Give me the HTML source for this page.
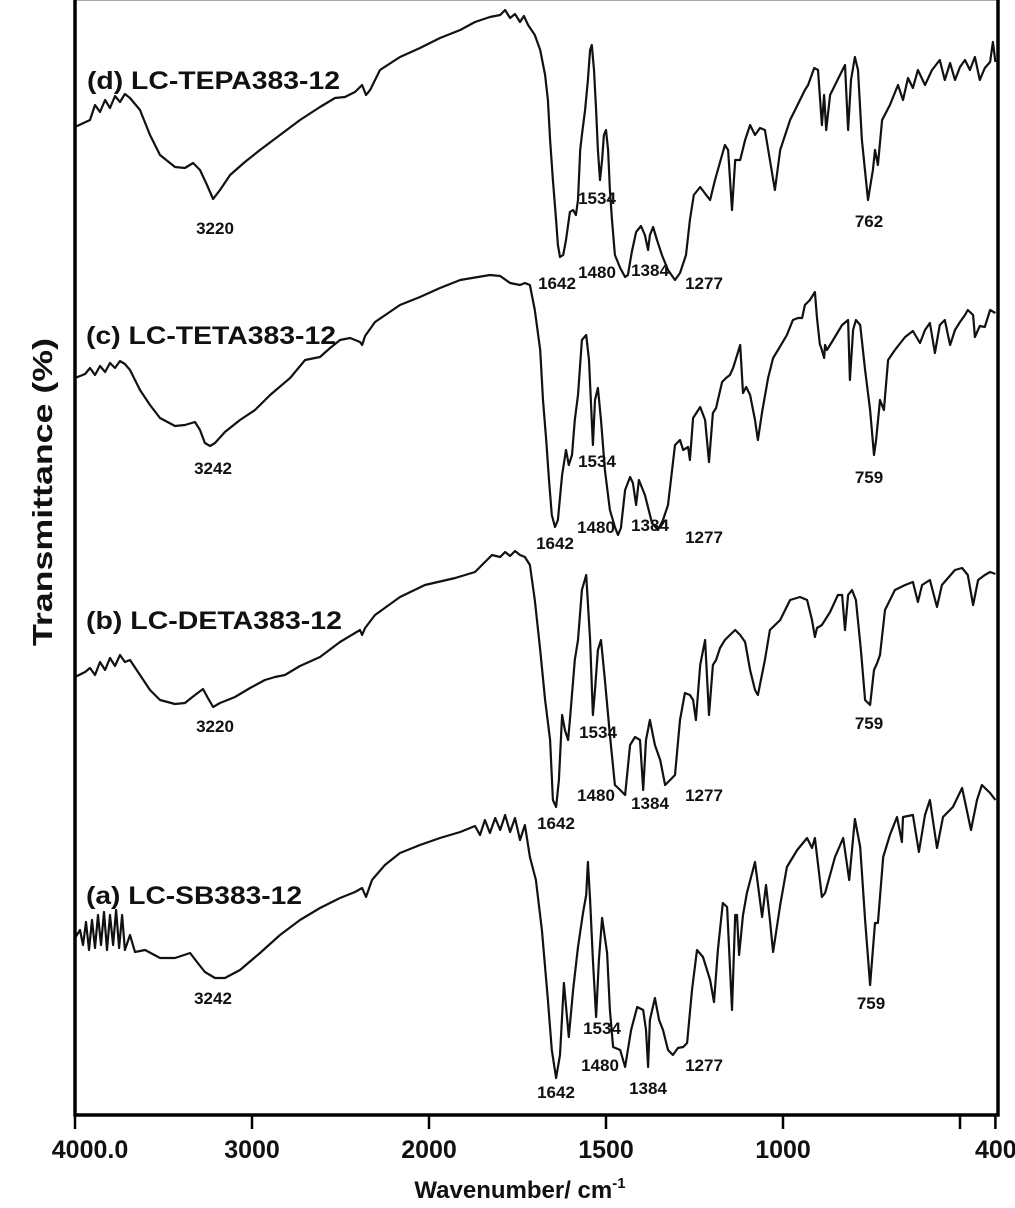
<!DOCTYPE html>
<html><head><meta charset="utf-8"><style>
html,body{margin:0;padding:0;background:#fff;}
svg{display:block;}
text{font-family:"Liberation Sans",Arial,sans-serif;font-weight:bold;fill:#111;}
</style></head><body>
<svg id="chart" width="1015" height="1208" viewBox="0 0 1015 1208" xmlns="http://www.w3.org/2000/svg">
<rect x="0" y="0" width="1015" height="1208" fill="#fff"/>
<line x1="75" y1="0.5" x2="998" y2="0.5" stroke="#aaa" stroke-width="1"/>
<g id="series"></g>
<g id="axes"></g>
<g>
<text x="87" y="89" font-size="25" textLength="253" lengthAdjust="spacingAndGlyphs">(d) LC-TEPA383-12</text>
<text x="86" y="344" font-size="25" textLength="250" lengthAdjust="spacingAndGlyphs">(c) LC-TETA383-12</text>
<text x="86" y="629" font-size="25" textLength="256" lengthAdjust="spacingAndGlyphs">(b) LC-DETA383-12</text>
<text x="86" y="904" font-size="25" textLength="216" lengthAdjust="spacingAndGlyphs">(a) LC-SB383-12</text>
</g>
<g font-size="17" text-anchor="middle">
<text x="215" y="234">3220</text><text x="597" y="204">1534</text><text x="557" y="289">1642</text><text x="597" y="278">1480</text><text x="650" y="276">1384</text><text x="704" y="289">1277</text><text x="869" y="227">762</text>
<text x="213" y="474">3242</text><text x="597" y="467">1534</text><text x="555" y="549">1642</text><text x="596" y="533">1480</text><text x="650" y="531">1384</text><text x="704" y="543">1277</text><text x="869" y="483">759</text>
<text x="215" y="732">3220</text><text x="598" y="738">1534</text><text x="556" y="829">1642</text><text x="596" y="801">1480</text><text x="650" y="809">1384</text><text x="704" y="801">1277</text><text x="869" y="729">759</text>
<text x="213" y="1004">3242</text><text x="602" y="1034">1534</text><text x="556" y="1098">1642</text><text x="600" y="1071">1480</text><text x="648" y="1094">1384</text><text x="704" y="1071">1277</text><text x="871" y="1009">759</text>
</g>
<text transform="translate(52,492) rotate(-90)" text-anchor="middle" font-size="28" textLength="308" lengthAdjust="spacingAndGlyphs">Transmittance (%)</text>
<text x="520" y="1198" text-anchor="middle" font-size="24">Wavenumber/ cm<tspan font-size="15" dy="-10">-1</tspan></text>
</svg>
<script>
const wnD=[4000,3915,3887,3859,3830,3802,3774,3746,3718,3689,3633,3576,3520,3435,3379,3333,3294,3254,3220,3181,3124,3040,2955,2842,2729,2616,2531,2475,2418,2378,2356,2333,2277,2164,2051,1969,1912,1870,1828,1799,1785,1771,1757,1743,1732,1720,1701,1686,1672,1664,1658,1650,1641,1636,1630,1621,1613,1602,1593,1585,1579,1573,1568,1559,1551,1545,1540,1534,1528,1523,1517,1511,1506,1500,1494,1489,1483,1475,1460,1446,1438,1427,1415,1401,1390,1381,1376,1367,1356,1342,1325,1305,1291,1274,1263,1252,1234,1217,1206,1192,1164,1155,1144,1135,1121,1107,1093,1079,1065,1051,1037,1023,1008,980,952,938,929,912,901,890,884,878,867,839,825,816,808,797,788,777,760,746,740,732,720,698,675,661,647,633,619,599,579,557,543,528,514,500,486,472,458,444,430,415,407,400];
const tD=[98.8,99.5,101.0,100.3,101.5,100.7,101.9,101.3,102.1,101.7,100.5,98.0,96.0,94.8,94.7,95.2,94.5,93.0,91.6,92.5,94.0,95.3,96.5,98.0,99.5,100.8,101.7,101.8,102.3,103.0,102.0,102.5,104.5,105.8,106.7,107.7,108.5,109.3,109.8,110.0,110.5,109.7,110.1,109.3,109.9,109.0,108.0,106.5,104.0,101.5,97.5,93.5,89.5,87.0,85.8,86.0,87.5,90.3,90.5,90.0,91.5,96.5,98.0,100.5,103.5,106.5,107.0,104.5,100.5,96.5,93.5,95.5,98.0,98.5,96.5,92.5,89.5,86.0,84.7,83.8,84.0,86.3,88.3,88.9,88.0,86.5,88.0,88.8,87.5,86.0,84.5,83.5,84.2,86.0,89.5,92.0,92.8,92.0,91.5,93.5,97.0,96.5,90.5,95.5,95.5,97.5,99.0,98.0,98.7,98.5,95.5,92.5,96.5,99.5,101.5,102.5,103.0,104.7,104.5,99.0,102.0,98.5,102.0,104.0,105.0,98.5,103.5,105.8,104.5,97.5,91.5,94.5,96.5,95.0,99.5,101.0,103.0,101.5,103.7,102.7,104.5,103.0,104.5,105.5,103.5,105.2,103.5,104.8,105.5,104.5,105.8,103.5,104.7,105.3,107.3,105.3];
const wnC=[4000,3943,3915,3887,3859,3830,3802,3774,3746,3718,3689,3633,3576,3520,3435,3379,3322,3294,3266,3237,3209,3153,3068,2983,2898,2785,2700,2616,2559,2503,2446,2390,2378,2361,2305,2164,2051,1969,1912,1828,1799,1771,1743,1729,1715,1701,1686,1678,1669,1661,1653,1644,1636,1624,1613,1605,1596,1588,1579,1568,1556,1548,1537,1531,1523,1514,1503,1489,1475,1466,1458,1446,1432,1424,1415,1407,1390,1370,1353,1339,1325,1305,1291,1282,1268,1263,1254,1234,1220,1209,1198,1189,1184,1172,1161,1150,1141,1133,1121,1113,1104,1093,1079,1071,1059,1042,1028,1014,989,972,958,946,938,924,910,904,896,890,884,881,876,862,833,816,811,802,794,782,768,754,743,737,726,715,703,684,655,633,613,599,585,571,557,543,528,514,500,486,478,463,458,444,430,415,400];
const tC=[73.7,74.1,74.7,74.0,74.9,74.3,75.2,74.7,75.4,75.1,74.5,72.5,71.0,69.7,68.9,69.0,69.3,68.5,67.2,66.9,67.2,68.3,69.5,70.5,72.0,73.7,75.5,75.8,76.7,77.5,77.7,77.3,77.0,77.9,79.3,81.0,81.8,82.7,83.5,84.0,83.9,83.2,83.0,83.2,83.0,80.5,76.5,71.5,67.5,63.5,60.0,58.8,59.5,64.0,66.5,65.0,66.0,69.5,72.0,77.5,78.0,75.5,67.0,71.5,72.7,69.5,64.5,60.5,58.8,58.0,58.7,62.5,63.8,63.2,61.0,63.5,62.0,59.2,58.5,59.5,61.0,67.0,67.5,66.5,66.8,65.5,69.7,70.8,69.5,65.3,70.2,70.7,71.5,73.3,73.7,74.0,74.7,75.6,77.0,72.2,72.8,72.0,69.5,67.5,70.3,73.7,75.7,76.5,78.0,79.5,79.7,79.7,81.0,81.5,82.3,79.7,77.1,76.5,75.7,77.0,76.5,77.3,79.0,79.5,73.5,78.5,79.5,79.0,74.5,70.5,66.0,67.5,71.5,70.5,75.5,76.5,77.8,78.4,77.2,78.5,79.2,76.2,79.0,79.5,77.0,78.5,79.3,80.0,80.5,80.0,77.8,78.9,78.8,80.5,80.2];
const wnB=[4000,3943,3915,3887,3859,3830,3802,3774,3746,3718,3689,3633,3576,3520,3435,3379,3322,3277,3249,3220,3181,3096,3011,2927,2870,2814,2729,2616,2503,2390,2378,2361,2305,2164,2023,1926,1870,1822,1799,1785,1771,1757,1743,1729,1715,1701,1686,1672,1658,1650,1641,1633,1624,1616,1607,1602,1588,1579,1568,1556,1545,1537,1531,1523,1514,1503,1489,1475,1460,1446,1432,1418,1404,1395,1387,1376,1362,1347,1333,1319,1305,1291,1277,1263,1254,1246,1234,1220,1209,1198,1189,1178,1164,1150,1135,1121,1107,1093,1079,1071,1051,1037,1008,980,952,932,918,910,904,890,867,845,833,825,816,805,794,780,768,754,743,734,726,712,684,655,633,619,607,585,565,551,534,514,494,478,463,449,430,415,400];
const tB=[43.8,44.3,44.7,44.0,45.3,44.5,45.7,44.9,46.0,45.3,45.5,44.0,42.5,41.5,41.1,41.2,42.0,42.6,41.7,40.8,41.2,41.8,42.7,43.5,43.8,44.0,44.9,45.8,47.3,48.5,48.0,48.7,50.0,51.8,53.0,53.7,54.3,56.0,55.8,56.3,55.9,56.4,56.0,55.8,55.0,51.5,46.5,41.5,37.5,31.5,30.8,33.5,40.0,38.5,37.5,39.5,45.5,47.5,52.5,54.0,47.5,40.0,42.5,46.5,47.5,43.5,38.0,33.0,32.5,32.0,37.0,37.8,37.5,32.5,37.5,39.5,37.0,35.5,33.0,33.5,34.0,39.5,42.2,42.0,41.5,39.5,45.0,47.5,40.0,45.0,45.5,46.7,47.5,48.0,48.5,48.0,47.3,44.5,42.5,42.0,45.5,48.5,49.5,51.5,51.8,51.5,49.5,47.8,48.7,49.0,50.3,52.0,52.0,48.5,52.0,52.5,51.5,46.5,41.5,41.0,44.5,45.2,46.0,50.5,52.5,53.0,53.3,51.3,53.0,53.5,50.8,53.0,53.7,54.5,54.7,54.0,51.0,53.5,54.0,54.3,54.1];
const wnA=[4000,3972,3955,3938,3921,3904,3887,3870,3853,3836,3819,3802,3785,3768,3751,3734,3718,3689,3661,3604,3520,3435,3350,3311,3266,3209,3153,3068,2955,2842,2729,2616,2503,2418,2378,2356,2322,2249,2164,2051,1969,1912,1870,1856,1842,1828,1813,1799,1785,1771,1757,1743,1729,1715,1698,1681,1664,1653,1641,1630,1619,1605,1593,1579,1565,1556,1551,1545,1537,1528,1520,1511,1497,1489,1480,1460,1446,1429,1412,1395,1387,1381,1376,1362,1350,1339,1325,1311,1297,1282,1271,1257,1243,1226,1206,1195,1184,1170,1158,1144,1135,1130,1124,1113,1102,1079,1059,1048,1037,1028,1008,989,960,932,918,910,890,881,853,830,813,797,782,768,754,740,732,717,698,678,664,661,633,616,599,585,565,548,520,494,469,452,438,415,400];
const tA=[17.7,18.5,17.0,19.3,16.5,19.5,16.7,20.0,17.0,20.3,16.5,20.0,17.0,20.5,16.7,20.0,16.5,18.0,16.3,16.5,15.7,15.7,16.2,15.3,14.3,13.7,13.7,14.5,16.2,18.0,19.5,20.7,21.7,22.3,22.7,21.8,23.5,25.0,26.2,27.0,27.7,28.3,28.9,28.0,29.5,28.2,29.7,28.5,30.0,28.3,29.7,27.5,29.0,25.8,23.5,18.5,11.5,6.5,3.7,6.0,13.2,7.8,12.5,16.8,20.2,22.0,25.3,21.5,15.5,9.8,15.5,19.7,16.2,10.5,6.8,6.5,4.8,8.5,10.8,10.5,8.5,4.8,9.5,11.7,9.5,8.5,6.5,6.0,6.7,6.8,7.2,12.5,16.5,15.8,13.5,11.3,16.5,21.2,20.8,10.5,20.0,20.0,16.0,20.0,22.2,25.3,19.8,23.0,19.5,16.3,21.0,24.8,26.5,27.7,26.7,27.7,21.8,22.2,25.8,27.7,23.5,29.6,26.8,19.5,13.0,19.2,19.2,25.8,28.0,29.8,27.3,29.8,30.0,26.3,30.0,31.5,26.7,29.8,30.8,32.7,28.5,31.5,33.0,32.2,31.5];
const tickValues=[4000,3000,2000,1500,1000,500,400];
const tickLabels=["4000.0","3000","2000","1500","1000","","400.0"];

const NS="http://www.w3.org/2000/svg";
function xScale(w){return w>=2000?75+(4000-w)*0.177:429+(2000-w)*0.354;}
function yScale(v){return 1115-v*10;}
const sg=document.getElementById('series');
[["spectrum-d",wnD,tD],["spectrum-c",wnC,tC],["spectrum-b",wnB,tB],["spectrum-a",wnA,tA]].forEach(function(s){
  const p=document.createElementNS(NS,'path');
  let d='';
  for(let i=0;i<s[1].length;i++){d+=(i?'L':'M')+xScale(s[1][i]).toFixed(1)+','+yScale(s[2][i]).toFixed(1);}
  p.setAttribute('d',d);
  p.setAttribute('fill','none');p.setAttribute('stroke','#111');p.setAttribute('stroke-width','2.2');p.setAttribute('stroke-linejoin','round');
  
  
  sg.appendChild(p);
});
const ag=document.getElementById('axes');
function line(x1,y1,x2,y2,w,name){
  const l=document.createElementNS(NS,'line');
  l.setAttribute('x1',x1);l.setAttribute('y1',y1);l.setAttribute('x2',x2);l.setAttribute('y2',y2);
  l.setAttribute('stroke','#000');l.setAttribute('stroke-width',w);
  
  
  ag.appendChild(l);
}
line(75,0,75,1116.5,3.5,'y-axis-line');
line(998,0,998,1116.5,3.5,'right-axis-line');
line(73.5,1115,999.5,1115,3.5,'x-axis-line');
tickValues.forEach(function(v,i){
  const x=xScale(v);
  line(x,1115,x,1129,2.5,'x-tick');
  if(tickLabels[i]){
    const t=document.createElementNS(NS,'text');
    t.setAttribute('x',i===0?90:(i===tickLabels.length-1?975:x));
    t.setAttribute('y',1158);
    t.setAttribute('font-size','25');
    t.setAttribute('text-anchor',i===tickLabels.length-1?'start':'middle');
    t.textContent=tickLabels[i];
    
    
    ag.appendChild(t);
  }
});
</script>
</body></html>
